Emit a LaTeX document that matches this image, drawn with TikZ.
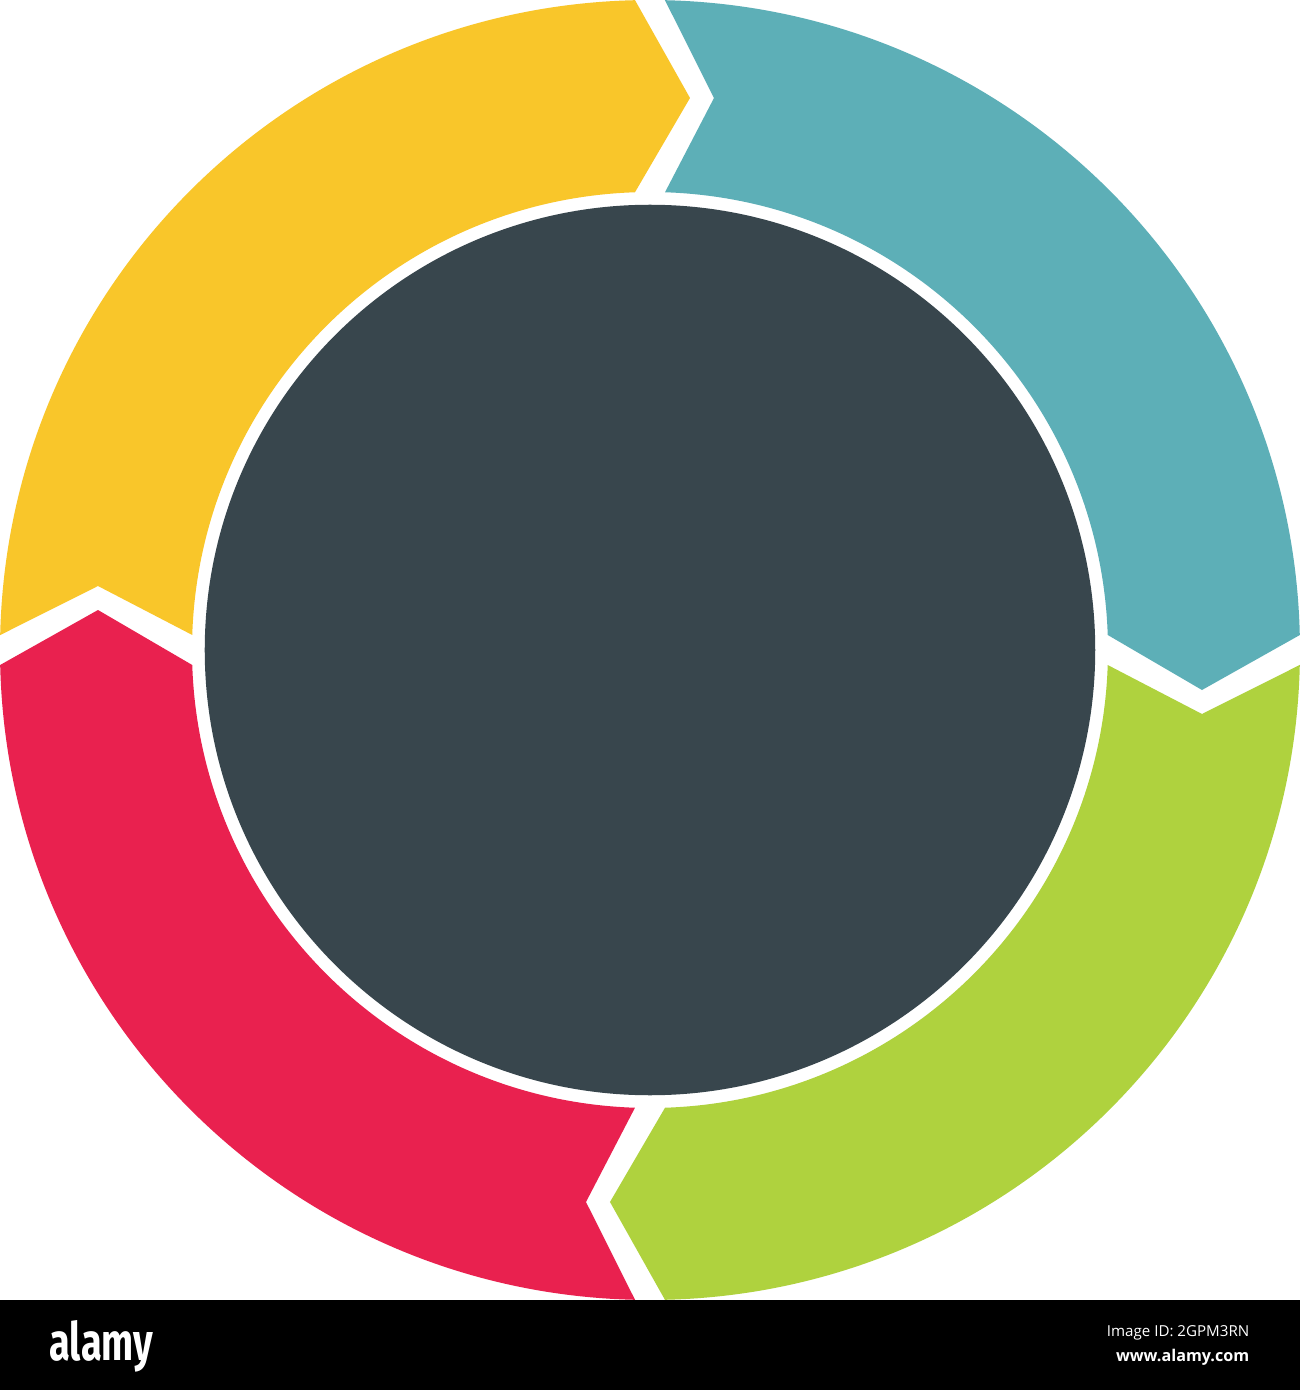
\documentclass[tikz,border=0pt]{standalone}
\usepackage{fontspec}
\setmainfont{Open Sans}
\newfontfamily\logofont{Fira Sans}
\definecolor{cyellow}{HTML}{F9C62A}
\definecolor{cteal}{HTML}{5DAFB7}
\definecolor{cgreen}{HTML}{AFD23E}
\definecolor{cred}{HTML}{E9214F}
\definecolor{cdark}{HTML}{38464D}
\begin{document}
\begin{tikzpicture}[x=0.01cm,y=0.01cm]
\useasboundingbox (-650,650) rectangle (650,-740);
\fill[white] (-650,650) rectangle (650,-650);
% ring geometry (px): Ro=650, Ri=458, Rm=552, g=15, tip d=55, notch d'=49
\newcommand{\ringarrow}[2]{%
  \fill[#2, rotate=#1]
    (91.32:650) -- (40,552) -- (91.88:458)
    arc[start angle=91.88, end angle=178.12, radius=458]
    -- (-552,64) -- (178.68:650)
    arc[start angle=178.68, end angle=91.32, radius=650] -- cycle;}
\ringarrow{0}{cyellow}
\ringarrow{-90}{cteal}
\ringarrow{-180}{cgreen}
\ringarrow{90}{cred}
\node[circle, fill=cdark, minimum size=8.9cm, inner sep=0pt] (hub) at (0,0) {};
% bottom bar
\fill[black] (-650,-650) rectangle (650,-740);
\node[anchor=west, text=white, inner sep=0pt, xscale=0.72] (logo) at (-601,-696)
  {\logofont\bfseries\fontsize{15pt}{15pt}\selectfont alamy};
\node[anchor=east, text=white, inner sep=0pt] (imgid) at (600,-683)
  {\fontsize{4.3pt}{5pt}\selectfont Image ID: 2GPM3RN};
\node[anchor=east, text=white, inner sep=0pt] (www) at (600,-707)
  {\fontsize{4.6pt}{5pt}\selectfont\bfseries www.alamy.com};
\end{tikzpicture}
\end{document}
